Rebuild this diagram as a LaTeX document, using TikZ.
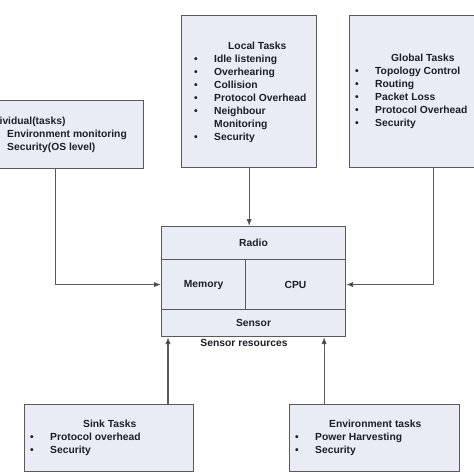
\documentclass[tikz,border=0pt]{standalone}
\usepackage{fontspec}
\setmainfont{Liberation Sans}
\usetikzlibrary{arrows.meta,positioning}
\definecolor{boxfill}{HTML}{E9ECF5}
\definecolor{boxline}{HTML}{5A5A5A}
\definecolor{ink}{HTML}{1E1E28}
\newcommand{\tasklist}[1]{\begin{tabular}[t]{@{}p{20pt}@{}l@{}}#1\end{tabular}}

\begin{document}
\begin{tikzpicture}[x=1pt,y=-1pt,font=\fontsize{10.3}{13}\selectfont\bfseries,text=ink,
    taskbox/.style={draw=boxline,fill=boxfill,line width=1.3pt,inner sep=0pt,anchor=north west},
    cell/.style={draw=boxline,fill=boxfill,line width=1.1pt,inner sep=0pt,anchor=north west},
    arr/.style={-{Latex[length=7pt,width=5.5pt,fill=ink]},draw=boxline,line width=1.1pt}]
  \clip (0,0) rectangle (474,474);
  \fill[white] (0,0) rectangle (474,474);
  % task boxes
  \node[taskbox,minimum width=176pt,minimum height=68pt] (indiv) at (-33,100) {};
  \node[taskbox,minimum width=135pt,minimum height=152pt] (local) at (181,15) {};
  \node[taskbox,minimum width=168pt,minimum height=152pt] (global) at (349,15) {};
  \node[taskbox,minimum width=169pt,minimum height=67pt] (sink) at (24,404) {};
  \node[taskbox,minimum width=170pt,minimum height=67pt] (env) at (289,404) {};
  % sensor resources
  \node[cell,minimum width=184pt,minimum height=33pt] (radio) at (161,226) {Radio};
  \node[cell,minimum width=84pt,minimum height=50pt] (memory) at (161,259) {Memory};
  \node[cell,minimum width=100pt,minimum height=50pt] (cpu) at (245,259) {CPU};
  \node[cell,minimum width=184pt,minimum height=27pt] (sensor) at (161,309) {Sensor};
  \node[anchor=base,inner sep=0pt] (resources) at (244,346.7) {Sensor resources};
  % titles and lists
  \node[anchor=base west,inner sep=0pt] (indivtitle) at (-16,124.7) {Individual(tasks)};
  \node[anchor=base west,inner sep=0pt] (indivlist) at (-13,137.7) {\tasklist{\textbullet & Environment monitoring\\
    \textbullet & Security(OS level)}};
  \node[anchor=base west,inner sep=0pt] (localtitle) at (228,49.5) {Local Tasks};
  \node[anchor=base west,inner sep=0pt] (locallist) at (194,62.7) {\tasklist{\textbullet & Idle listening\\
    \textbullet & Overhearing\\ \textbullet & Collision\\ \textbullet & Protocol Overhead\\
    \textbullet & Neighbour\\ & Monitoring\\ \textbullet & Security}};
  \node[anchor=base west,inner sep=0pt] (globaltitle) at (391,61.7) {Global Tasks};
  \node[anchor=base west,inner sep=0pt] (globallist) at (355,74.7) {\tasklist{\textbullet & Topology Control\\
    \textbullet & Routing\\ \textbullet & Packet Loss\\ \textbullet & Protocol Overhead\\ \textbullet & Security}};
  \node[anchor=base west,inner sep=0pt] (sinktitle) at (83,427.7) {Sink Tasks};
  \node[anchor=base west,inner sep=0pt] (sinklist) at (30,440.7) {\tasklist{\textbullet & Protocol overhead\\
    \textbullet & Security}};
  \node[anchor=base west,inner sep=0pt] (envtitle) at (329,427.7) {Environment tasks};
  \node[anchor=base west,inner sep=0pt] (envlist) at (295,440.7) {\tasklist{\textbullet & Power Harvesting\\
    \textbullet & Security}};
  % arrows
  \coordinate (sinkin) at ([xshift=7pt]sensor.south west);
  \coordinate (envin) at ([xshift=-22pt]sensor.south east);
  \draw[arr] (local.south) -- (local.south |- radio.north);
  \draw[arr] (indiv.south) |- (memory.west);
  \draw[arr] (global.south) |- (cpu.east);
  \draw[arr] (sink.north -| sinkin) -- (sinkin);
  \draw[arr] (env.north -| envin) -- (envin);
\end{tikzpicture}
\end{document}
